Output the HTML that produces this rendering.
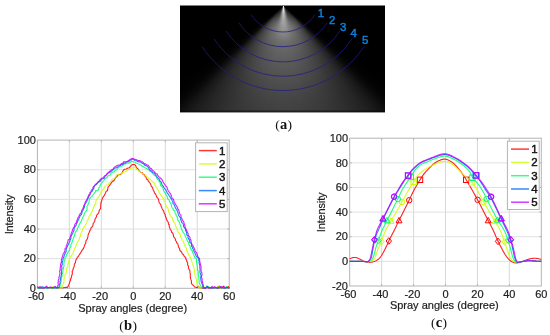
<!DOCTYPE html>
<html lang="en">
<head>
<meta charset="utf-8">
<title>Spray intensity figure</title>
<style>
html,body{margin:0;padding:0;background:#fff;}
body{width:550px;height:335px;position:relative;overflow:hidden;font-family:"Liberation Sans",Arial,sans-serif;}
#core{position:absolute;left:180px;top:6px;width:205px;height:106px;mix-blend-mode:screen;background:conic-gradient(from 180deg at 103.5px -2px, rgba(0,0,0,0) 0deg, rgba(0,0,0,0.07) 4deg, rgba(0,0,0,0.28) 8deg, rgba(0,0,0,0.55) 12deg, rgba(0,0,0,0.78) 16deg, rgba(0,0,0,0.92) 20deg, rgba(0,0,0,1) 25deg, rgba(0,0,0,1) 335deg, rgba(0,0,0,0.92) 340deg, rgba(0,0,0,0.78) 344deg, rgba(0,0,0,0.55) 348deg, rgba(0,0,0,0.28) 352deg, rgba(0,0,0,0.07) 356deg, rgba(0,0,0,0) 360deg),radial-gradient(circle at 103.5px -1px, #f0f0f0 0px, #d4d4d4 5px, #a0a0a0 10px, #6c6c6c 16px, #3c3c3c 22px, #141414 30px, #000 38px),#000;}
#spray{position:absolute;left:180px;top:6px;width:205px;height:106px;box-shadow:0 -1px 0 0 rgba(0,0,0,.5),0 1px 0 0 rgba(0,0,0,.4);background:linear-gradient(to bottom, rgba(0,0,0,0) 0, rgba(0,0,0,0) 103.5px, rgba(0,0,0,.6) 106px),conic-gradient(from 180deg at 103.5px 0px, rgba(0,0,0,0) 0deg, rgba(0,0,0,0.02) 10deg, rgba(0,0,0,0.09) 20deg, rgba(0,0,0,0.15) 25deg, rgba(0,0,0,0.23) 30deg, rgba(0,0,0,0.34) 35deg, rgba(0,0,0,0.42) 38deg, rgba(0,0,0,0.5) 40deg, rgba(0,0,0,0.59) 42deg, rgba(0,0,0,0.71) 44deg, rgba(0,0,0,0.84) 46deg, rgba(0,0,0,0.93) 48deg, rgba(0,0,0,0.98) 51deg, rgba(0,0,0,1) 54deg, rgba(0,0,0,1) 306deg, rgba(0,0,0,0.98) 309deg, rgba(0,0,0,0.93) 312deg, rgba(0,0,0,0.84) 314deg, rgba(0,0,0,0.71) 316deg, rgba(0,0,0,0.59) 318deg, rgba(0,0,0,0.5) 320deg, rgba(0,0,0,0.42) 322deg, rgba(0,0,0,0.34) 325deg, rgba(0,0,0,0.23) 330deg, rgba(0,0,0,0.15) 335deg, rgba(0,0,0,0.09) 340deg, rgba(0,0,0,0.02) 350deg, rgba(0,0,0,0) 360deg),radial-gradient(circle at 103.5px 0px, #202020 0px, #333 6px, #525252 12px, #727272 18px, #7c7c7c 23px, #767676 30px, #686868 41px, #5c5c5c 55px, #525252 71px, #4a4a4a 84px, #454545 94px, #404040 107px, #383838 140px),#000;}
svg{position:absolute;left:0;top:0;}
.tk{font-family:"Liberation Sans",Arial,sans-serif;font-size:11px;fill:#1c1c1c;stroke:#1c1c1c;stroke-width:.2px;}
.lg{font-family:"Liberation Sans",Arial,sans-serif;font-size:11.5px;fill:#141414;stroke:#141414;stroke-width:.45px;}
.cap{font-family:"Liberation Serif","Times New Roman",serif;font-size:13.5px;letter-spacing:.3px;fill:#111;}
.cap tspan{font-size:14.5px;}
.num{font-family:"Liberation Sans",Arial,sans-serif;font-size:11.5px;fill:#0c80de;stroke:#0c80de;stroke-width:.45px;}
</style>
</head>
<body>
<div id="spray"></div>
<div id="core"></div>
<svg width="550" height="335" viewBox="0 0 550 335">
<g id="chart-b">
<line x1="69.37" y1="140.1" x2="69.37" y2="288.3" stroke="#d4d4d4" stroke-width="0.9"/>
<line x1="101.33" y1="140.1" x2="101.33" y2="288.3" stroke="#d4d4d4" stroke-width="0.9"/>
<line x1="133.3" y1="140.1" x2="133.3" y2="288.3" stroke="#d4d4d4" stroke-width="0.9"/>
<line x1="165.27" y1="140.1" x2="165.27" y2="288.3" stroke="#d4d4d4" stroke-width="0.9"/>
<line x1="197.23" y1="140.1" x2="197.23" y2="288.3" stroke="#d4d4d4" stroke-width="0.9"/>
<line x1="37.4" y1="169.74" x2="229.2" y2="169.74" stroke="#dcdcdc" stroke-width="0.9"/>
<line x1="37.4" y1="199.38" x2="229.2" y2="199.38" stroke="#dcdcdc" stroke-width="0.9"/>
<line x1="37.4" y1="229.02" x2="229.2" y2="229.02" stroke="#dcdcdc" stroke-width="0.9"/>
<line x1="37.4" y1="258.66" x2="229.2" y2="258.66" stroke="#dcdcdc" stroke-width="0.9"/>
<rect x="37.4" y="140.1" width="191.8" height="148.2" fill="none" stroke="#b4b4b4" stroke-width="1"/>
<line x1="69.37" y1="288.3" x2="69.37" y2="286.3" stroke="#b4b4b4"/>
<line x1="69.37" y1="140.1" x2="69.37" y2="142.1" stroke="#b4b4b4"/>
<line x1="101.33" y1="288.3" x2="101.33" y2="286.3" stroke="#b4b4b4"/>
<line x1="101.33" y1="140.1" x2="101.33" y2="142.1" stroke="#b4b4b4"/>
<line x1="133.3" y1="288.3" x2="133.3" y2="286.3" stroke="#b4b4b4"/>
<line x1="133.3" y1="140.1" x2="133.3" y2="142.1" stroke="#b4b4b4"/>
<line x1="165.27" y1="288.3" x2="165.27" y2="286.3" stroke="#b4b4b4"/>
<line x1="165.27" y1="140.1" x2="165.27" y2="142.1" stroke="#b4b4b4"/>
<line x1="197.23" y1="288.3" x2="197.23" y2="286.3" stroke="#b4b4b4"/>
<line x1="197.23" y1="140.1" x2="197.23" y2="142.1" stroke="#b4b4b4"/>
<line x1="37.4" y1="169.74" x2="39.4" y2="169.74" stroke="#b4b4b4"/>
<line x1="229.2" y1="169.74" x2="227.2" y2="169.74" stroke="#b4b4b4"/>
<line x1="37.4" y1="199.38" x2="39.4" y2="199.38" stroke="#b4b4b4"/>
<line x1="229.2" y1="199.38" x2="227.2" y2="199.38" stroke="#b4b4b4"/>
<line x1="37.4" y1="229.02" x2="39.4" y2="229.02" stroke="#b4b4b4"/>
<line x1="229.2" y1="229.02" x2="227.2" y2="229.02" stroke="#b4b4b4"/>
<line x1="37.4" y1="258.66" x2="39.4" y2="258.66" stroke="#b4b4b4"/>
<line x1="229.2" y1="258.66" x2="227.2" y2="258.66" stroke="#b4b4b4"/>
<polyline points="37.4,288.14 38.7,287.85 40,287.75 41.3,288.02 42.6,287.71 43.9,288.04 45.2,287.76 46.5,287.45 47.8,287.46 49.1,287.63 50.4,287.48 51.7,288.18 53,287.65 54.3,287.66 55.6,287.54 56.9,287.64 58.2,288.28 59.5,287.62 60.8,287.68 62.1,287.4 63.4,287.83 64.7,287.58 66,287.4 67.24,287.42 68.19,286.13 68.73,285.25 68.95,284.21 69.58,282.93 69.91,281.17 70.53,280.61 70.56,278.57 71.31,277.99 71.57,276.01 72.23,274.25 72.42,273.14 72.08,271.58 72.69,270.84 73.05,269.07 73.93,267.33 74.31,265.47 74.34,264.12 75.36,262.85 75.5,261.52 76.09,259.69 76.86,258.62 77.23,257.28 78.34,256.41 79.38,254.57 80.46,253.18 80.81,252.68 81.43,251.19 82.19,250.19 83.38,248.69 84.03,247.02 84.42,245.94 84.86,244.41 85.64,243.56 85.86,241.86 86.03,240.51 87.11,239.45 87.81,237.28 87.96,236.32 88.18,234.7 88.86,232.94 89.31,232.27 89.92,230.31 90.7,229.61 91.05,227.77 92.1,226.88 92.97,225.49 93.11,223.62 93.82,222.77 94.98,220.59 94.91,219.31 95.59,218.21 96.54,216.6 96.64,215.4 97.6,214.19 98.75,212.95 98.99,211.5 99.76,209.51 100.36,208.79 100.74,207.3 100.7,205.35 100.84,204.09 101.21,201.95 101.74,200.54 102.26,198.91 102.62,197.71 103.39,196.63 103.99,195.88 105.19,193.78 105.54,192.69 106.31,191.13 107.42,190.78 107.75,188.91 108.08,187.18 108.99,186.05 110.1,184.63 110.28,184.38 111.65,182.39 112.57,181.15 113.47,181.08 114.68,179.66 115.05,178.19 115.88,177.52 117.12,176.42 117.85,174.7 119.78,174.73 121.32,173.74 122.29,172.6 122.75,171.29 123.87,169.68 124.78,169.24 126.18,168.97 128.01,167.98 129.19,167.86 130.41,166.45 131.15,165.43 132.53,164.54 134.31,164.44 135.41,165.18 136.14,166.73 136.43,167.71 137.97,168.98 138.63,169.78 139.31,171.16 140.65,172.21 142.42,172.81 143.11,174.45 144.6,174.64 144.86,175.82 146.36,177.74 146.48,178.96 148.03,179.97 148.27,181.05 148.87,181.67 150.52,183.76 151.02,185.48 151.59,186.7 152.6,187.26 152.74,188.64 153.38,190.26 154.06,191.37 154.6,193.2 155.45,193.99 156.31,195.77 156.82,197.08 157.55,197.94 158.22,198.67 158.75,200.2 158.95,202.23 159.71,203.22 160.8,204.66 161.04,205.97 161.85,207.61 162.05,208.72 162.77,209.75 163.79,211.38 164.14,213.03 165,214.05 165.27,215.49 165.73,217.07 166.21,218.27 166.78,220.09 167.52,221.39 168.28,222.08 168.48,224.2 169.28,224.69 169.17,226.39 169.67,227.54 170.22,229.39 171.5,231.02 171.57,232.21 172.66,232.97 173.5,235.26 173.55,236.63 174.35,237.51 175.52,239.27 175.42,240.22 176.37,241.5 176.73,242.87 177.84,243.92 178.33,245.77 178.49,247.04 179.67,248.63 179.81,250.53 181.32,251.76 181.56,252.23 182.36,254.04 183.42,254.56 184.42,256.67 185.63,257.19 185.88,259.16 186.71,260.38 186.73,261.14 187.72,263.01 187.62,265.03 188.57,266.34 188.53,267.87 188.96,269.34 189.76,270.22 190.05,272.4 189.99,273.06 190.42,274.71 190.25,276.16 190.4,277.74 190.83,279.39 191.43,280.9 191.4,282.31 191.46,283.67 192.48,284.62 194.01,286.16 194.62,287.02 196.39,287.57 197.2,287.48 198.5,286.33 199.8,287.61 201.1,287.88 202.4,287.99 203.7,288.19 205,287.69 206.3,287.53 207.6,286.34 208.9,288.2 210.2,288.06 211.5,287.53 212.8,287.85 214.1,288.12 215.4,287.93 216.7,288.01 218,286.67 219.3,286.09 220.6,287.9 221.9,287.96 223.2,286.24 224.5,288.07 225.8,287.88 227.1,287.46 228.4,286.56 229.2,287.9" fill="none" stroke="#ff0000" stroke-width="1.1" stroke-linejoin="round" stroke-opacity=".88"/>
<polyline points="37.4,288.18 38.7,287.63 40,286.85 41.3,287.96 42.6,287.73 43.9,287.58 45.2,287.94 46.5,286.46 47.8,288.01 49.1,287.68 50.4,288.12 51.7,286.26 53,287.9 54.3,287.48 55.6,288.03 56.9,287.65 58.2,288.26 59.5,287.91 60.8,287.77 62.41,287.48 62.77,286.85 62.89,284.72 63.23,283.58 63.84,282.03 64.08,279.96 63.98,278.68 64.87,277.26 65.06,275.46 64.99,274.28 65.92,273.28 66.31,271.37 66.55,270.09 66.89,268.25 67.65,266.87 68.11,266.21 67.63,264.22 68.74,263.31 68.79,261.08 68.96,260.36 69.34,258.49 70.08,257.03 71.61,255.2 72.29,254.21 73.15,253.02 73.36,251.84 74.39,249.48 74.53,248.6 75.5,247.01 75.8,245.67 76.53,244.83 76.82,243.34 78.15,241.26 78.8,240.53 79.35,238.68 79.44,237.4 80.58,236.23 80.58,234.67 81.08,232.86 81.49,232.34 82.23,231.07 82.77,228.94 83.7,227.49 84.27,226.96 85.42,225.43 85.89,224.17 86.86,222.4 87.35,220.48 88.06,219.55 88.77,218.39 89.04,216.36 90.31,215.08 90.6,213.94 91.13,213.01 92.44,211.11 92.84,209.78 93.29,208.56 93.48,206.98 94.05,206.47 94.85,204.39 95.75,203.92 95.88,201.65 96.19,200.27 96.86,198.95 97.59,197.8 98.71,197.16 99.69,195.3 100.21,194.09 101,192.56 101.54,191.16 103.18,189.66 103.58,188.88 104.73,187.09 105.09,186.12 106.11,185.34 108.01,184.78 109.34,182.87 109.58,182.43 111.36,180.97 112.08,179.25 113.1,179.19 114.69,178.03 116.03,176.28 116.45,175.1 118.02,174.6 119.9,174.04 121.13,173.49 122.46,172.66 123.59,172.31 125.26,171.71 127.13,170.28 128.17,169.48 130.12,169.22 131.05,167.93 132.82,167.89 134.1,166.9 135.56,167.73 136.55,169.29 138.41,170.56 139.55,171.27 140.16,171.92 142.11,173.28 142.83,173.37 144.3,174.94 145.53,175.33 146.95,177.15 147.75,177.25 149.05,178.75 150.56,179.59 151.87,181.26 152.5,181.68 153.82,182.79 154.59,183.7 154.95,185.29 155.78,186.79 156.72,187.24 157.24,188.78 158.4,190.66 158.7,191.34 159.52,193.27 160.22,193.54 160.91,195.21 162.43,197.04 163.05,198.46 163.99,199.01 163.87,201.03 164.92,201.39 165.4,203.12 165.69,204.41 166.05,205.4 166.7,207.14 167.86,208.24 168.42,209.68 168.53,211.73 169.6,212.67 169.57,214.09 170.51,215.95 171.01,216.71 172.3,217.71 172.52,219.94 173.5,220.47 173.5,221.86 174.95,223.45 175.45,225.52 175.74,226.21 176.95,227.96 176.99,229.44 177.67,230.34 178.03,232.25 179.49,233.51 180.16,234.22 180.16,236.11 181.45,238.02 181.58,238.63 182.26,240.29 183.35,241.33 183.87,243.33 184.53,244.75 184.98,245.65 185.36,247.07 186.41,248.15 186.53,250.28 187.27,250.97 187.78,252.96 188.74,254.88 189.95,256.34 190.09,256.79 190.64,258.7 191.62,260.14 191.62,261.61 192.39,263.39 192.94,265.08 193.29,265.78 193.88,267.47 194.06,269.06 194.47,270.24 194.29,271.66 194.46,273.74 195.1,274.49 195.19,276.6 195.55,277.13 196.08,278.97 196.64,279.81 196.58,282.05 197.31,283.61 196.99,284.37 197.79,285.33 199.29,286.82 199.99,287.66 200.8,288.3 202.1,287.58 203.4,285.88 204.7,287.78 206,287.77 207.3,287.81 208.6,287.41 209.9,287.98 211.2,287.48 212.5,287.73 213.8,287.53 215.1,287.87 216.4,287.5 217.7,288.12 219,285.83 220.3,288.28 221.6,287.45 222.9,287.75 224.2,287.96 225.5,287.54 226.8,287.6 228.1,288.16 229.2,287.9" fill="none" stroke="#ccff00" stroke-width="1.1" stroke-linejoin="round" stroke-opacity=".88"/>
<polyline points="37.4,286.75 38.7,288.1 40,287.97 41.3,287.78 42.6,287.96 43.9,288.01 45.2,287.56 46.5,288.1 47.8,287.84 49.1,287.43 50.4,287.54 51.7,288.25 53,287.49 54.3,287.89 55.6,287.86 56.9,288.15 58.2,287.77 59.51,287.49 59.98,286.34 60.25,284.44 60.4,283.62 61.26,281.4 61.23,280.71 61.03,279.32 61.38,277.58 62.05,276.14 62.09,274.45 62.61,272.98 62.94,271.54 63.01,269.61 63.44,268.66 63.36,267.49 64.12,265.69 63.84,264.24 64.05,262.39 64.6,260.88 64.88,259.88 64.79,258.55 65.46,257.26 66.72,255.61 66.7,254.2 67.62,253.3 68.04,251.79 69.45,250.26 69.82,248.28 70.5,247.22 71.01,246.3 70.83,244.77 72.05,242.59 72.07,241.96 72.43,240.73 73.06,239.25 73.48,237.52 74.71,235.81 74.65,234.75 75.24,232.85 75.65,231.6 76.86,230.78 77.36,228.84 77.93,227.41 78.37,226.61 78.89,225.5 79.74,223.8 80.7,221.91 81.47,221.11 81.6,219.93 82.16,218.77 83.11,216.7 83.95,215.42 84.09,214.38 84.65,213.09 85.51,211.52 86.84,210.09 87.03,208.28 86.92,206.46 87.54,205.58 88.28,203.96 89.18,202.02 89.07,201.08 89.37,198.85 90.56,197.77 91.44,196.7 92.53,195.9 93.08,194.74 94.21,193 95.51,191.92 95.68,190.56 97.32,190.71 98.65,189.49 98.84,187.54 99.83,186.62 100.22,185.19 100.95,183.98 102.21,182.21 103.36,180.97 104.03,180.35 104.76,178.96 106.25,177.89 107.05,177.9 107.68,176.07 109.24,175.46 110.41,174.86 111.14,173.36 112.39,172.13 114.06,172 115.05,170.2 116.31,170.07 117.11,169.27 118.24,167.9 119.07,167.11 120.16,166.42 121.94,166.01 123.17,165.23 123.79,164.26 125.61,163.98 127.35,162.88 129.13,163.11 130.08,162.55 131.23,161.4 132.76,161.47 134.9,162.17 135.84,163.02 137.05,162.99 138.77,164.1 139.77,164.82 141.23,165.29 142.31,166.22 143.7,166.81 144.95,167.83 145.95,168.31 147.61,169.04 149.17,170.09 149.67,171.03 151.79,172.27 152.38,172.9 153.59,174.61 154.95,175.79 155.87,176.27 156.57,177.76 157.6,179.44 158.5,179.78 159.3,181.88 160.2,182.17 160.25,183.56 160.81,185.75 162.23,186.9 162.96,188.28 163.19,189.08 163.74,191.18 164.55,192.08 165.46,193.14 166.03,194.81 167.16,196.29 167.52,198.33 168.4,199.59 169.18,200.03 169.67,201.83 170.67,203.08 171.28,204.64 171.52,206.35 172.08,207.65 172.83,208.1 173.53,210.29 174.82,210.83 174.96,212.73 175.82,213.77 176.14,215.32 177.03,216.59 177.71,217.99 177.64,219.82 178.48,220.54 179.19,221.88 179.92,223.93 180.5,225.23 180.7,226.35 181.32,228.26 181.63,229.63 182.21,230.26 183.07,232.41 183.92,233.23 184.91,234.45 185.16,236.17 186.07,237.8 186.61,238.74 186.96,239.91 188.07,241.86 188.62,242.7 188.98,244.75 189.75,245.43 190.29,247.65 190.72,248.27 191.42,250.22 192.61,251.07 192.69,252.62 193.54,254.37 194.09,255.61 194.82,257.77 196.01,258.26 196.52,259.81 196.3,262.33 196.97,263.61 196.94,264.57 197.42,266.02 197.34,267.88 197.36,269.45 198.22,271.33 198.14,272.83 198.29,273.85 198.59,275.7 198.9,277.81 198.8,279 199.26,280.39 198.98,282.28 199.74,283.9 200.45,285.45 201.29,286.69 201.96,287.79 203.2,287.59 204.5,287.75 205.8,287.51 207.1,286.65 208.4,286.54 209.7,287.78 211,287.72 212.3,287.6 213.6,288.25 214.9,287.6 216.2,287.75 217.5,287.52 218.8,288.13 220.1,287.82 221.4,287.6 222.7,287.72 224,288.14 225.3,287.82 226.6,286.26 227.9,287.72 229.2,287.9" fill="none" stroke="#00ff66" stroke-width="1.1" stroke-linejoin="round" stroke-opacity=".88"/>
<polyline points="37.4,287.66 38.7,287.58 40,288.29 41.3,287.14 42.6,286.68 43.9,287.66 45.2,287.41 46.5,287.71 47.8,287.4 49.1,287.87 50.4,287.79 51.7,287.6 53,287.52 54.3,288.09 55.6,286.69 56.9,287.95 58.2,287.65 58.99,287.66 59.21,286.25 59.38,284.32 60.1,283.16 59.9,281.72 60.35,280.39 60.72,279.18 60.63,278 61.23,275.57 61.37,275.03 61.48,272.72 61.68,271.79 61.11,269.63 62.11,268.87 61.63,266.79 61.69,265.46 62.42,264.12 62.02,263.26 62.75,260.98 62.99,259.99 63.05,258.59 63.75,257.32 64.3,255.27 64.77,254.23 65.42,252.73 66.14,251.46 66.19,249.71 66.58,248.61 67.02,247.19 67.6,245.83 68.43,244.5 69.26,242.52 69.75,241.64 70,240.48 70.76,238.77 70.89,238.03 71.08,236.28 72.1,234.23 72.58,233.56 73.38,231.79 73.93,230.6 73.99,229.64 74.22,228.07 75.4,226.28 76.25,224.94 76.55,223.74 77.46,222.02 77.8,220.89 78.55,219.96 78.96,218.59 79.7,216.86 80.22,215.49 81.5,214.28 81.98,212.56 82.19,211.15 83.08,210.15 83.78,208.17 84.25,207.77 84.62,205.53 84.92,204.16 85.35,203.84 86.25,202.22 86.94,201.18 87.3,199.53 88.02,198.36 88.7,197.09 89.07,195.82 90,194.67 90.39,192.78 91.04,192.17 92.54,190.79 92.75,189.72 93.84,188.18 94.07,186.64 94.93,185.4 96.02,184.76 97.55,183.11 98.3,182.09 98.98,181.94 100.47,181.06 101.47,179.11 102.54,178.78 104.15,178.25 104.86,176.66 105.64,175.96 106.86,174.46 107.8,173.34 109.53,172.5 110.9,171.51 111.93,170.59 112.27,170.39 113.57,169.56 114.62,167.96 116.25,167.83 117.65,167.15 118.29,166.34 120.19,165.46 121.72,164.53 123.08,164.34 123.56,162.87 125.39,163.2 126.12,162.09 127.96,161.38 129.32,161.18 129.77,160.39 131.4,159.8 132.66,158.81 134.02,159.65 135.13,160.54 136.46,160.74 138.32,161.82 139.86,161.87 140.71,162.08 142.63,163.56 143.79,163.92 144.9,165.39 146.4,165.74 147.23,166.32 148.55,167.46 149.17,168.91 150.16,170.34 150.67,170.25 151.72,171.51 153.08,172.75 154.47,173.1 155.54,175.14 156.69,176.08 157.28,177.59 158.88,178.6 159.73,179.55 159.75,181.1 161.15,182.03 161.87,184.15 162.16,185.12 163.38,186.25 163.77,187.31 165.08,189.19 165.64,189.71 166.77,191.75 167.07,192.83 168.48,194.46 168.97,195.3 169.84,196.28 170.3,197.56 171.58,199.05 172.13,200.44 172.77,201.51 173.02,203.8 173.99,204.17 174.89,206.27 175.14,207.41 175.99,208.67 176.37,209.49 177.83,211.77 177.96,212.82 178.34,214.42 179.08,215.98 179.97,217.21 180.73,217.96 180.48,219.27 181.2,220.51 181.67,222.41 182.99,223.67 183.65,225.54 183.44,226.57 184.32,227.41 185.41,228.93 185.62,230.74 186.53,232.16 186.58,233.3 186.93,235.26 188.24,235.83 187.94,237.25 188.79,239.35 189.84,240.66 189.63,242 190.79,243.23 191.6,243.96 191.4,246.12 192.68,247.42 192.66,248.71 193.63,249.57 193.93,250.98 194.43,252.47 195.16,253.44 195.82,255.17 196.39,256.45 197.24,256.95 198.58,258.39 198.89,260.65 199.15,261.4 199.05,262.91 199.79,265.28 199.82,266.4 199.86,268.36 200.12,269.7 199.96,270.81 200.02,272.92 200.61,273.85 201.03,275.54 200.76,276.98 200.77,279.29 200.97,280.11 201.25,281.84 201.76,283.18 202.43,284.58 202.96,286.72 202.94,287.98 204.4,287.95 205.7,288.13 207,286.05 208.3,287.77 209.6,287.45 210.9,287.7 212.2,288.18 213.5,287.41 214.8,287.83 216.1,287.64 217.4,288.15 218.7,287.55 220,286.62 221.3,287.8 222.6,287.51 223.9,288.13 225.2,287.69 226.5,287.74 227.8,287.46 229.1,288.26 229.2,287.9" fill="none" stroke="#0066ff" stroke-width="1.1" stroke-linejoin="round" stroke-opacity=".88"/>
<polyline points="37.4,286.47 38.7,287.58 40,286.63 41.3,287.97 42.6,288.16 43.9,288.04 45.2,287.79 46.5,286.08 47.8,288.1 49.1,287.44 50.4,286.9 51.7,287.5 53,287.59 54.3,286.58 55.6,287.75 57.41,287.83 57.7,285.81 58.35,284.56 57.91,282.96 58.24,282.28 58.31,280.02 59.18,278.66 58.75,277.64 59.44,276.08 59.74,274.15 60.08,273.35 59.52,271.23 60.11,270.17 60.1,268.28 60.4,266.83 60.75,266.15 60.54,264.37 61.26,262.45 61.52,261.82 61.31,259.78 61.91,258.43 62.04,257.49 62.92,255.42 62.97,254.02 63.68,253.33 64.54,251.85 65.08,250.38 64.93,248.63 66.28,247.7 66.17,245.75 67.05,244.3 67.49,242.59 67.94,241.69 68.1,239.9 69.49,239.21 69.99,237.67 70.41,236.56 71.01,234.23 71.33,233.1 71.89,231.72 72.3,231.05 72.91,228.93 73.49,227.76 74.55,226.22 74.64,225.25 75.14,223.82 76.57,222.36 76.62,220.93 77.53,219.21 77.83,217.82 78.66,216.75 79.32,215.2 79.81,214.17 81.16,212.86 81.59,211.54 81.93,210.23 82.74,208.73 83.45,207.32 83.75,205.74 84.25,204.71 84.97,203.47 85.21,201.89 86.55,200.44 86.85,199.39 87.32,198.63 88.03,197.08 88.62,195 89.97,194.1 89.95,192.73 91,191.8 91.41,189.93 92.89,189.19 92.87,187.44 93.76,186.5 94.7,185.38 95.97,183.98 96.97,183.19 98.07,181.85 99.18,181.07 100.37,179.39 101.47,178.27 102.52,177.93 103.42,177.37 104.62,175.79 105.96,175.31 106.94,173.79 107.94,172.89 109.32,171.73 110.16,171.04 111.3,169.8 112.71,169.53 113.5,168.24 114.27,167.23 115.28,166.68 117.07,165.45 118.78,165.01 120.11,164.87 121.61,163.47 122.53,163.55 123.56,161.9 125.31,161.85 126.88,161.6 127.78,161.3 129.02,160.22 130.23,159.35 131.01,158.84 132.07,158.49 133.76,158.73 134.64,159.26 136.44,159.87 138.13,160.62 140.02,160.59 140.95,161.54 142.85,162.03 143.83,163.35 144.9,163.6 147.03,164.96 148.01,164.97 149.41,166.76 150.39,168.24 151.5,168.76 151.89,169.77 153.11,170.71 153.72,171.05 155.12,172.51 155.87,173.94 157.12,173.9 157.92,175.72 158.83,176.61 159.55,177.18 161.27,178.81 162.07,179.71 162.88,181.42 163.63,182.84 164.83,184.55 165.57,185.17 165.86,186.16 167.13,187.37 167.24,188.7 168.32,190.69 169.1,191.94 169.31,192.33 170.64,193.94 171.29,195.24 171.5,196.41 172.14,198.38 173.27,199.03 173.82,200.42 174.12,202.33 175.26,203.76 175.8,204.73 176.29,205.45 177.56,207.69 177.67,209.09 178.78,209.78 179.14,211.88 179.6,213.24 179.92,213.99 180.9,215.18 181.08,217.27 181.79,218.55 182.12,219.24 182.77,220.63 183.87,222.11 184.06,223.29 184.58,224.96 185.01,225.98 185.31,228.19 186.07,228.92 186.48,230.35 187.08,231.46 188.03,233.19 188.13,234.97 188.63,235.88 189.86,237.11 190.07,239.28 190.95,239.92 191.11,241.92 191.69,243.57 192.1,244.95 192.92,245.54 193.44,246.82 194.23,248.35 194.96,250.1 195.17,250.96 196.07,252.17 196.99,253.31 197.35,255.02 197.82,256.51 198.61,257.63 199.46,258.49 199.62,259.62 199.75,261.85 200.2,263.02 200.33,264.29 200.88,265.6 200.93,266.62 201.06,268.3 201.01,270.34 201.27,271.49 201.95,273.4 202.04,275 201.49,275.85 201.51,277.8 202.2,278.94 202.09,280.77 202.46,281.82 202.71,283.44 203.18,284.72 203.39,286.99 204.61,288.23 205.6,288.15 206.9,287.48 208.2,287.78 209.5,288.02 210.8,288.15 212.1,286.31 213.4,287.79 214.7,286.67 216,287.44 217.3,288.13 218.6,287.89 219.9,287.97 221.2,286.47 222.5,287.77 223.8,286.17 225.1,288 226.4,287.62 227.7,287.8 229,287.72 229.2,287.9" fill="none" stroke="#cc00ff" stroke-width="1.1" stroke-linejoin="round" stroke-opacity=".88"/>
<rect x="195.6" y="142.8" width="31.6" height="68.8" fill="#fff" stroke="#b4b4b4" stroke-width="1"/>
<line x1="198.8" y1="150.6" x2="216.8" y2="150.6" stroke="#ff0000" stroke-opacity=".78" stroke-width="1.5"/>
<text x="218.9" y="154.6" class="lg">1</text>
<line x1="198.8" y1="163.9" x2="216.8" y2="163.9" stroke="#ccff00" stroke-opacity=".78" stroke-width="1.5"/>
<text x="218.9" y="167.9" class="lg">2</text>
<line x1="198.8" y1="177.2" x2="216.8" y2="177.2" stroke="#00ff66" stroke-opacity=".78" stroke-width="1.5"/>
<text x="218.9" y="181.2" class="lg">3</text>
<line x1="198.8" y1="190.6" x2="216.8" y2="190.6" stroke="#0066ff" stroke-opacity=".78" stroke-width="1.5"/>
<text x="218.9" y="194.6" class="lg">4</text>
<line x1="198.8" y1="203.8" x2="216.8" y2="203.8" stroke="#cc00ff" stroke-opacity=".78" stroke-width="1.5"/>
<text x="218.9" y="207.8" class="lg">5</text>
<text x="36.2" y="300.2" class="tk" text-anchor="middle">-60</text>
<text x="68.17" y="300.2" class="tk" text-anchor="middle">-40</text>
<text x="100.13" y="300.2" class="tk" text-anchor="middle">-20</text>
<text x="133.3" y="300.2" class="tk" text-anchor="middle">0</text>
<text x="165.27" y="300.2" class="tk" text-anchor="middle">20</text>
<text x="197.23" y="300.2" class="tk" text-anchor="middle">40</text>
<text x="229.2" y="300.2" class="tk" text-anchor="middle">60</text>
<text x="35.9" y="292" class="tk" text-anchor="end">0</text>
<text x="35.9" y="262.36" class="tk" text-anchor="end">20</text>
<text x="35.9" y="232.72" class="tk" text-anchor="end">40</text>
<text x="35.9" y="203.08" class="tk" text-anchor="end">60</text>
<text x="35.9" y="173.44" class="tk" text-anchor="end">80</text>
<text x="35.9" y="143.8" class="tk" text-anchor="end">100</text>
<text x="132.7" y="311.5" class="tk" text-anchor="middle">Spray angles (degree)</text>
<text transform="translate(12.9 214.5) rotate(-90)" class="tk" letter-spacing="-.15" text-anchor="middle">Intensity</text>
<text x="128.2" y="330" class="cap" text-anchor="middle">(<tspan font-weight="bold">b</tspan>)</text>
</g>
<g id="chart-c">
<line x1="381.63" y1="138.2" x2="381.63" y2="286" stroke="#d4d4d4" stroke-width="0.9"/>
<line x1="413.57" y1="138.2" x2="413.57" y2="286" stroke="#d4d4d4" stroke-width="0.9"/>
<line x1="445.5" y1="138.2" x2="445.5" y2="286" stroke="#d4d4d4" stroke-width="0.9"/>
<line x1="477.43" y1="138.2" x2="477.43" y2="286" stroke="#d4d4d4" stroke-width="0.9"/>
<line x1="509.37" y1="138.2" x2="509.37" y2="286" stroke="#d4d4d4" stroke-width="0.9"/>
<line x1="349.7" y1="162.83" x2="541.3" y2="162.83" stroke="#dcdcdc" stroke-width="0.9"/>
<line x1="349.7" y1="187.47" x2="541.3" y2="187.47" stroke="#dcdcdc" stroke-width="0.9"/>
<line x1="349.7" y1="212.1" x2="541.3" y2="212.1" stroke="#dcdcdc" stroke-width="0.9"/>
<line x1="349.7" y1="236.73" x2="541.3" y2="236.73" stroke="#dcdcdc" stroke-width="0.9"/>
<line x1="349.7" y1="261.37" x2="541.3" y2="261.37" stroke="#dcdcdc" stroke-width="0.9"/>
<rect x="349.7" y="138.2" width="191.6" height="147.8" fill="none" stroke="#b4b4b4" stroke-width="1"/>
<line x1="381.63" y1="286" x2="381.63" y2="284" stroke="#b4b4b4"/>
<line x1="381.63" y1="138.2" x2="381.63" y2="140.2" stroke="#b4b4b4"/>
<line x1="413.57" y1="286" x2="413.57" y2="284" stroke="#b4b4b4"/>
<line x1="413.57" y1="138.2" x2="413.57" y2="140.2" stroke="#b4b4b4"/>
<line x1="445.5" y1="286" x2="445.5" y2="284" stroke="#b4b4b4"/>
<line x1="445.5" y1="138.2" x2="445.5" y2="140.2" stroke="#b4b4b4"/>
<line x1="477.43" y1="286" x2="477.43" y2="284" stroke="#b4b4b4"/>
<line x1="477.43" y1="138.2" x2="477.43" y2="140.2" stroke="#b4b4b4"/>
<line x1="509.37" y1="286" x2="509.37" y2="284" stroke="#b4b4b4"/>
<line x1="509.37" y1="138.2" x2="509.37" y2="140.2" stroke="#b4b4b4"/>
<line x1="349.7" y1="162.83" x2="351.7" y2="162.83" stroke="#b4b4b4"/>
<line x1="541.3" y1="162.83" x2="539.3" y2="162.83" stroke="#b4b4b4"/>
<line x1="349.7" y1="187.47" x2="351.7" y2="187.47" stroke="#b4b4b4"/>
<line x1="541.3" y1="187.47" x2="539.3" y2="187.47" stroke="#b4b4b4"/>
<line x1="349.7" y1="212.1" x2="351.7" y2="212.1" stroke="#b4b4b4"/>
<line x1="541.3" y1="212.1" x2="539.3" y2="212.1" stroke="#b4b4b4"/>
<line x1="349.7" y1="236.73" x2="351.7" y2="236.73" stroke="#b4b4b4"/>
<line x1="541.3" y1="236.73" x2="539.3" y2="236.73" stroke="#b4b4b4"/>
<line x1="349.7" y1="261.37" x2="351.7" y2="261.37" stroke="#b4b4b4"/>
<line x1="541.3" y1="261.37" x2="539.3" y2="261.37" stroke="#b4b4b4"/>
<polyline points="349.7,258.8 349.84,258.74 350.13,258.61 350.56,258.43 351.14,258.18 351.72,257.96 352.31,257.79 352.9,257.65 353.5,257.55 354.11,257.5 354.74,257.5 355.38,257.55 356.03,257.65 356.7,257.81 357.4,258.04 358.12,258.32 358.88,258.68 359.66,259.05 360.47,259.45 361.31,259.88 362.19,260.33 363.06,260.74 363.94,261.11 364.81,261.45 365.69,261.75 366.53,261.99 367.34,262.16 368.12,262.27 368.88,262.32 369.62,262.34 370.38,262.31 371.12,262.25 371.88,262.15 372.62,262 373.38,261.8 374.12,261.55 374.88,261.25 375.62,260.9 376.38,260.5 377.12,260.05 377.88,259.55 378.59,258.98 379.28,258.32 379.94,257.6 380.56,256.8 381.18,255.95 381.77,255.05 382.36,254.1 382.94,253.1 383.59,251.9 384.33,250.5 385.15,248.9 386.05,247.1 386.81,245.54 387.44,244.21 387.92,243.13 388.28,242.27 388.68,241.36 389.13,240.39 389.63,239.35 390.17,238.25 390.8,237.01 391.5,235.64 392.28,234.12 393.12,232.48 394.05,230.65 395.05,228.65 396.12,226.48 397.28,224.12 398.78,221.09 400.62,217.36 402.83,212.95 405.37,207.85 407.58,203.39 409.44,199.56 410.96,196.38 412.14,193.83 413.4,191.28 414.75,188.72 416.19,186.17 417.71,183.62 419.14,181.28 420.48,179.13 421.72,177.18 422.88,175.43 424.04,173.81 425.21,172.34 426.4,171 427.6,169.8 428.72,168.67 429.77,167.62 430.75,166.65 431.65,165.75 432.51,164.94 433.34,164.21 434.12,163.58 434.88,163.03 435.62,162.51 436.38,162.04 437.12,161.6 437.88,161.2 438.62,160.82 439.38,160.47 440.12,160.15 440.88,159.85 441.62,159.6 442.38,159.4 443.12,159.25 443.88,159.15 444.62,159.12 445.38,159.17 446.12,159.3 446.88,159.5 447.69,159.79 448.56,160.16 449.5,160.62 450.5,161.18 451.44,161.75 452.31,162.35 453.12,162.98 453.88,163.62 454.62,164.32 455.38,165.07 456.12,165.88 456.88,166.73 457.81,167.85 458.94,169.25 460.25,170.93 461.75,172.88 463.01,174.59 464.04,176.06 464.83,177.3 465.37,178.3 466.16,179.69 467.19,181.46 468.45,183.62 469.95,186.17 471.41,188.7 472.84,191.2 474.22,193.67 475.58,196.12 477.25,199.26 479.25,203.09 481.58,207.6 484.22,212.8 486.52,217.29 488.47,221.06 490.07,224.12 491.32,226.48 492.56,228.95 493.79,231.55 495,234.27 496.2,237.13 497.48,239.98 498.82,242.82 500.25,245.68 501.75,248.53 503.06,250.95 504.19,252.95 505.12,254.53 505.88,255.68 506.62,256.74 507.38,257.71 508.12,258.6 508.88,259.4 509.62,260.11 510.38,260.74 511.12,261.28 511.88,261.72 512.62,262.1 513.38,262.4 514.12,262.62 514.88,262.77 515.62,262.86 516.38,262.89 517.12,262.85 517.88,262.75 518.62,262.61 519.38,262.44 520.12,262.23 520.88,261.98 521.62,261.71 522.38,261.44 523.12,261.15 523.88,260.85 524.62,260.56 525.38,260.29 526.12,260.02 526.88,259.77 527.62,259.54 528.38,259.31 529.12,259.1 529.88,258.9 530.62,258.73 531.38,258.57 532.12,258.45 532.88,258.35 533.62,258.29 534.38,258.26 535.12,258.27 535.88,258.32 536.71,258.42 537.62,258.57 538.61,258.77 539.69,259.02 540.49,259.21 541.03,259.34 541.3,259.4" fill="none" stroke="#ff0000" stroke-width="1.1" stroke-linejoin="round" stroke-opacity=".88"/>
<rect x="417.3" y="177.1" width="5.4" height="5.4" fill="none" stroke="#ff0000" stroke-width="1"/>
<rect x="463.5" y="177.1" width="5.4" height="5.4" fill="none" stroke="#ff0000" stroke-width="1"/>
<circle cx="409.2" cy="200.2" r="2.7" fill="none" stroke="#ff0000" stroke-width="1"/>
<circle cx="477.6" cy="199.8" r="2.7" fill="none" stroke="#ff0000" stroke-width="1"/>
<polygon points="399,217.4 396,222.8 402,222.8" fill="none" stroke="#ff0000" stroke-width="1"/>
<polygon points="488.2,217.4 485.2,222.8 491.2,222.8" fill="none" stroke="#ff0000" stroke-width="1"/>
<polygon points="388.8,237.7 391.5,241 388.8,244.3 386.1,241" fill="none" stroke="#ff0000" stroke-width="1"/>
<polygon points="498,238.1 500.7,241.4 498,244.7 495.3,241.4" fill="none" stroke="#ff0000" stroke-width="1"/>
<polyline points="349.7,261.37 350.47,261.37 352.01,261.37 354.31,261.37 357.39,261.37 359.91,261.39 361.89,261.42 363.31,261.48 364.19,261.55 364.96,261.62 365.64,261.69 366.21,261.74 366.69,261.79 367.3,261.79 368.05,261.73 368.94,261.62 369.96,261.45 370.85,261.25 371.6,261.02 372.21,260.75 372.69,260.45 373.13,260.11 373.54,259.74 373.92,259.33 374.28,258.88 374.64,258.27 375.01,257.52 375.4,256.62 375.8,255.58 376.22,254.41 376.67,253.14 377.15,251.75 377.65,250.25 378.21,248.72 378.84,247.18 379.52,245.6 380.27,244 380.99,242.37 381.66,240.72 382.3,239.05 382.9,237.35 383.47,235.78 384.01,234.33 384.51,233 384.99,231.8 385.67,230.35 386.57,228.65 387.69,226.7 389.01,224.5 390.69,221.65 392.73,218.15 395.12,214 397.88,209.2 400.34,204.85 402.53,200.95 404.44,197.5 406.06,194.5 407.6,191.74 409.05,189.21 410.41,186.92 411.69,184.88 412.88,182.96 413.99,181.19 415.02,179.55 415.98,178.05 416.91,176.7 417.84,175.5 418.75,174.45 419.65,173.55 420.7,172.61 421.9,171.64 423.25,170.62 424.75,169.57 426.25,168.6 427.75,167.7 429.25,166.88 430.75,166.12 432.25,165.4 433.75,164.7 435.25,164.02 436.75,163.38 438.06,162.84 439.19,162.41 440.12,162.1 440.88,161.9 441.64,161.72 442.41,161.57 443.2,161.45 444,161.35 444.8,161.32 445.6,161.37 446.4,161.5 447.2,161.7 448.02,161.96 448.87,162.29 449.75,162.68 450.65,163.12 451.7,163.8 452.9,164.7 454.25,165.83 455.75,167.17 457.25,168.56 458.75,169.99 460.25,171.45 461.75,172.95 463.39,174.52 465.16,176.17 467.08,177.9 469.12,179.7 470.99,181.53 472.66,183.38 474.15,185.25 475.45,187.15 476.81,189.32 478.24,191.78 479.73,194.5 481.27,197.5 483.15,200.96 485.35,204.89 487.88,209.27 490.72,214.13 493.2,218.3 495.3,221.8 497.03,224.63 498.38,226.77 499.65,229.14 500.85,231.71 501.98,234.5 503.02,237.5 504,240.31 504.9,242.94 505.73,245.38 506.48,247.62 507.19,249.72 507.86,251.68 508.5,253.48 509.1,255.12 509.71,256.56 510.34,257.79 510.97,258.8 511.62,259.6 512.26,260.29 512.89,260.86 513.5,261.32 514.1,261.68 514.7,261.94 515.3,262.12 515.9,262.22 516.5,262.24 517.11,262.24 517.74,262.22 518.38,262.19 519.03,262.14 519.76,262.05 520.59,261.91 521.5,261.73 522.5,261.5 523.5,261.3 524.5,261.13 525.5,260.98 526.5,260.85 527.5,260.77 528.5,260.72 529.5,260.7 530.5,260.73 531.5,260.77 532.5,260.84 533.5,260.92 534.5,261.02 535.58,261.1 536.74,261.18 537.99,261.24 539.31,261.29 540.31,261.33 540.97,261.35 541.3,261.37" fill="none" stroke="#ccff00" stroke-width="1.1" stroke-linejoin="round" stroke-opacity=".88"/>
<rect x="410.9" y="179.1" width="5.4" height="5.4" fill="none" stroke="#ccff00" stroke-width="1"/>
<rect x="469.5" y="179.7" width="5.4" height="5.4" fill="none" stroke="#ccff00" stroke-width="1"/>
<circle cx="402" cy="202" r="2.7" fill="none" stroke="#ccff00" stroke-width="1"/>
<circle cx="483.6" cy="202" r="2.7" fill="none" stroke="#ccff00" stroke-width="1"/>
<polygon points="391,218 388,223.4 394,223.4" fill="none" stroke="#ccff00" stroke-width="1"/>
<polygon points="495,218.2 492,223.6 498,223.6" fill="none" stroke="#ccff00" stroke-width="1"/>
<polygon points="381.4,238.3 384.1,241.6 381.4,244.9 378.7,241.6" fill="none" stroke="#ccff00" stroke-width="1"/>
<polygon points="504.6,238.7 507.3,242 504.6,245.3 501.9,242" fill="none" stroke="#ccff00" stroke-width="1"/>
<polyline points="349.7,261.37 350.47,261.37 352.01,261.37 354.31,261.37 357.39,261.37 359.91,261.39 361.89,261.42 363.31,261.48 364.19,261.55 364.96,261.62 365.64,261.69 366.21,261.74 366.69,261.79 367.21,261.77 367.77,261.69 368.38,261.54 369.03,261.33 369.61,261.1 370.14,260.87 370.6,260.62 371,260.38 371.39,260.07 371.76,259.73 372.12,259.33 372.47,258.88 372.84,258.21 373.21,257.34 373.6,256.25 374,254.95 374.39,253.59 374.76,252.16 375.12,250.67 375.47,249.12 375.89,247.59 376.36,246.06 376.9,244.55 377.5,243.05 378.15,241.33 378.85,239.38 379.6,237.2 380.4,234.8 381.04,232.92 381.51,231.57 381.83,230.75 381.97,230.45 382.39,229.64 383.06,228.31 384,226.48 385.2,224.12 386.78,221.01 388.72,217.14 391.05,212.5 393.75,207.1 396.03,202.49 397.89,198.66 399.34,195.62 400.36,193.38 401.51,191.1 402.79,188.8 404.19,186.48 405.71,184.12 407.03,182.14 408.14,180.51 409.05,179.25 409.75,178.35 410.46,177.34 411.19,176.21 411.93,174.98 412.68,173.62 413.44,172.36 414.21,171.19 415,170.1 415.8,169.1 416.65,168.15 417.55,167.25 418.5,166.4 419.5,165.6 420.62,164.84 421.88,164.11 423.25,163.43 424.75,162.78 426.25,162.14 427.75,161.51 429.25,160.9 430.75,160.3 432.25,159.71 433.75,159.14 435.25,158.58 436.75,158.03 438.06,157.56 439.19,157.19 440.12,156.9 440.88,156.7 441.6,156.52 442.3,156.36 442.97,156.21 443.62,156.09 444.33,156.04 445.08,156.06 445.88,156.16 446.72,156.34 447.61,156.58 448.54,156.89 449.5,157.28 450.5,157.72 451.62,158.25 452.88,158.85 454.25,159.53 455.75,160.28 457.25,161.1 458.75,162 460.25,162.97 461.75,164.03 463.25,165.19 464.75,166.46 466.25,167.85 467.75,169.35 469.02,170.86 470.08,172.39 470.9,173.92 471.5,175.48 472.17,176.85 472.92,178.05 473.75,179.07 474.65,179.93 475.73,181.11 476.99,182.64 478.44,184.5 480.06,186.7 481.54,188.91 482.86,191.14 484.04,193.38 485.06,195.62 486.51,198.62 488.37,202.38 490.65,206.88 493.35,212.12 495.81,216.69 498.04,220.56 500.02,223.75 501.77,226.25 503.32,228.76 504.67,231.29 505.82,233.83 506.77,236.38 507.64,238.84 508.41,241.21 509.1,243.5 509.7,245.7 510.26,247.81 510.79,249.84 511.27,251.77 511.73,253.62 512.19,255.27 512.66,256.72 513.15,257.97 513.65,259.03 514.12,259.91 514.57,260.64 515,261.2 515.4,261.6 515.79,261.9 516.16,262.11 516.53,262.22 516.88,262.24 517.3,262.24 517.8,262.22 518.38,262.19 519.03,262.14 519.76,262.05 520.59,261.91 521.5,261.73 522.5,261.5 523.5,261.3 524.5,261.13 525.5,260.98 526.5,260.85 527.5,260.77 528.5,260.72 529.5,260.7 530.5,260.73 531.5,260.77 532.5,260.84 533.5,260.92 534.5,261.02 535.58,261.1 536.74,261.18 537.99,261.24 539.31,261.29 540.31,261.33 540.97,261.35 541.3,261.37" fill="none" stroke="#00ff66" stroke-width="1.1" stroke-linejoin="round" stroke-opacity=".88"/>
<rect x="408.1" y="174.3" width="5.4" height="5.4" fill="none" stroke="#00ff66" stroke-width="1"/>
<rect x="469.7" y="175.1" width="5.4" height="5.4" fill="none" stroke="#00ff66" stroke-width="1"/>
<circle cx="397.8" cy="199" r="2.7" fill="none" stroke="#00ff66" stroke-width="1"/>
<circle cx="486.6" cy="199" r="2.7" fill="none" stroke="#00ff66" stroke-width="1"/>
<polygon points="387,217.4 384,222.8 390,222.8" fill="none" stroke="#00ff66" stroke-width="1"/>
<polygon points="497.4,216.8 494.4,222.2 500.4,222.2" fill="none" stroke="#00ff66" stroke-width="1"/>
<polygon points="378.4,237.5 381.1,240.8 378.4,244.1 375.7,240.8" fill="none" stroke="#00ff66" stroke-width="1"/>
<polygon points="508.2,236.9 510.9,240.2 508.2,243.5 505.5,240.2" fill="none" stroke="#00ff66" stroke-width="1"/>
<polyline points="349.7,261.37 350.47,261.37 352.01,261.37 354.31,261.37 357.39,261.37 359.91,261.39 361.89,261.42 363.31,261.48 364.19,261.55 364.96,261.62 365.64,261.69 366.21,261.74 366.69,261.79 367.14,261.77 367.58,261.69 368,261.54 368.4,261.33 368.79,261.08 369.16,260.79 369.53,260.48 369.88,260.12 370.21,259.71 370.54,259.24 370.85,258.7 371.15,258.1 371.49,256.95 371.86,255.25 372.27,253 372.73,250.2 373.15,247.71 373.55,245.54 373.92,243.67 374.28,242.12 374.66,240.55 375.09,238.95 375.55,237.32 376.05,235.68 376.54,234.24 377.01,233.01 377.48,232 377.93,231.2 378.55,229.9 379.35,228.1 380.33,225.8 381.47,223 383.02,219.53 384.97,215.38 387.32,210.55 390.07,205.05 392.41,200.5 394.34,196.9 395.85,194.25 396.95,192.55 398.11,190.71 399.34,188.74 400.62,186.62 401.97,184.38 403.25,182.35 404.45,180.55 405.58,178.98 406.62,177.62 407.59,176.35 408.46,175.15 409.25,174.03 409.95,172.97 410.68,171.99 411.43,171.06 412.2,170.2 413,169.4 413.8,168.61 414.6,167.84 415.4,167.07 416.2,166.32 417.02,165.6 417.87,164.9 418.75,164.22 419.65,163.57 420.7,162.93 421.9,162.27 423.25,161.62 424.75,160.98 426.25,160.35 427.75,159.75 429.25,159.18 430.75,158.62 432.25,158.08 433.75,157.53 435.25,156.97 436.75,156.42 438.06,155.96 439.19,155.59 440.12,155.3 440.88,155.1 441.61,154.92 442.34,154.76 443.05,154.61 443.75,154.49 444.48,154.43 445.23,154.44 446,154.53 446.8,154.68 447.65,154.89 448.55,155.18 449.5,155.54 450.5,155.96 451.62,156.47 452.88,157.06 454.25,157.72 455.75,158.47 457.25,159.3 458.75,160.2 460.25,161.17 461.75,162.22 463.25,163.32 464.75,164.48 466.25,165.68 467.75,166.93 469.24,168.28 470.71,169.73 472.17,171.28 473.63,172.93 475.06,174.62 476.49,176.38 477.9,178.18 479.3,180.03 480.61,181.86 481.84,183.69 482.98,185.5 484.02,187.3 485.14,189.09 486.31,190.86 487.55,192.62 488.85,194.38 490.46,197.05 492.39,200.65 494.63,205.17 497.17,210.62 499.44,215.41 501.41,219.54 503.1,223 504.5,225.8 505.8,228.51 507,231.14 508.1,233.67 509.1,236.12 509.98,238.48 510.73,240.73 511.35,242.88 511.85,244.92 512.33,246.99 512.77,249.06 513.2,251.15 513.6,253.25 514,255.09 514.4,256.66 514.8,257.97 515.2,259.03 515.57,259.91 515.92,260.64 516.25,261.2 516.55,261.6 516.8,261.9 517,262.11 517.15,262.22 517.25,262.24 517.49,262.24 517.86,262.22 518.38,262.19 519.03,262.14 519.76,262.05 520.59,261.91 521.5,261.73 522.5,261.5 523.5,261.3 524.5,261.13 525.5,260.98 526.5,260.85 527.5,260.77 528.5,260.72 529.5,260.7 530.5,260.73 531.5,260.77 532.5,260.84 533.5,260.92 534.5,261.02 535.58,261.1 536.74,261.18 537.99,261.24 539.31,261.29 540.31,261.33 540.97,261.35 541.3,261.37" fill="none" stroke="#0066ff" stroke-width="1.1" stroke-linejoin="round" stroke-opacity=".88"/>
<rect x="405.5" y="172.9" width="5.4" height="5.4" fill="none" stroke="#0066ff" stroke-width="1"/>
<rect x="473.1" y="172.7" width="5.4" height="5.4" fill="none" stroke="#0066ff" stroke-width="1"/>
<circle cx="394.2" cy="196.8" r="2.7" fill="none" stroke="#0066ff" stroke-width="1"/>
<circle cx="490.8" cy="197" r="2.7" fill="none" stroke="#0066ff" stroke-width="1"/>
<polygon points="383.2,215.6 380.2,221 386.2,221" fill="none" stroke="#0066ff" stroke-width="1"/>
<polygon points="501,215.6 498,221 504,221" fill="none" stroke="#0066ff" stroke-width="1"/>
<polygon points="374.8,236.5 377.5,239.8 374.8,243.1 372.1,239.8" fill="none" stroke="#0066ff" stroke-width="1"/>
<polygon points="510.6,236.5 513.3,239.8 510.6,243.1 507.9,239.8" fill="none" stroke="#0066ff" stroke-width="1"/>
<polyline points="349.7,261.37 350.47,261.37 352.01,261.37 354.31,261.37 357.39,261.37 359.91,261.39 361.89,261.42 363.31,261.48 364.19,261.55 364.96,261.62 365.64,261.69 366.21,261.74 366.69,261.79 367.12,261.77 367.51,261.69 367.85,261.54 368.15,261.33 368.45,261.06 368.75,260.75 369.05,260.4 369.35,260 369.64,259.52 369.91,258.97 370.18,258.35 370.43,257.65 370.75,256.44 371.15,254.71 371.63,252.48 372.17,249.72 372.66,247.3 373.09,245.2 373.45,243.42 373.75,241.98 374.09,240.5 374.46,239 374.87,237.48 375.33,235.92 375.72,234.54 376.06,233.31 376.34,232.25 376.56,231.35 377.1,229.98 377.95,228.12 379.11,225.8 380.59,223 382.39,219.51 384.53,215.34 387,210.48 389.8,204.92 392.15,200.35 394.05,196.75 395.5,194.12 396.5,192.48 397.59,190.68 398.76,188.72 400.03,186.62 401.38,184.38 402.67,182.35 403.92,180.55 405.12,178.98 406.28,177.62 407.3,176.35 408.2,175.15 408.97,174.03 409.62,172.97 410.31,171.98 411.04,171.03 411.8,170.12 412.6,169.27 413.4,168.45 414.2,167.65 415,166.88 415.8,166.12 416.65,165.38 417.55,164.62 418.5,163.88 419.5,163.12 420.62,162.41 421.88,161.74 423.25,161.1 424.75,160.5 426.25,159.9 427.75,159.3 429.25,158.7 430.75,158.1 432.25,157.5 433.75,156.9 435.25,156.3 436.75,155.7 438.06,155.2 439.19,154.8 440.12,154.5 440.88,154.3 441.61,154.12 442.34,153.98 443.05,153.85 443.75,153.75 444.48,153.71 445.23,153.74 446,153.82 446.8,153.97 447.65,154.2 448.55,154.5 449.5,154.88 450.5,155.32 451.62,155.85 452.88,156.45 454.25,157.12 455.75,157.88 457.25,158.7 458.75,159.6 460.25,160.57 461.75,161.62 463.25,162.71 464.75,163.84 466.25,165 467.75,166.2 469.27,167.56 470.83,169.09 472.4,170.77 474,172.63 475.55,174.45 477.05,176.25 478.5,178.03 479.9,179.78 481.26,181.56 482.59,183.39 483.88,185.25 485.12,187.15 486.32,188.99 487.48,190.76 488.58,192.48 489.62,194.12 491.05,196.74 492.85,200.31 495.02,204.85 497.57,210.35 499.89,215.19 501.96,219.36 503.8,222.87 505.4,225.73 506.8,228.48 508,231.12 509,233.67 509.8,236.12 510.55,238.48 511.25,240.73 511.9,242.88 512.5,244.92 513.07,247.06 513.62,249.29 514.15,251.6 514.65,254 515.1,256.01 515.5,257.64 515.85,258.88 516.15,259.73 516.44,260.45 516.71,261.05 516.98,261.52 517.23,261.88 517.4,262.13 517.5,262.29 517.52,262.35 517.48,262.32 517.6,262.28 517.9,262.24 518.38,262.19 519.03,262.14 519.76,262.05 520.59,261.91 521.5,261.73 522.5,261.5 523.5,261.3 524.5,261.13 525.5,260.98 526.5,260.85 527.5,260.77 528.5,260.72 529.5,260.7 530.5,260.73 531.5,260.77 532.5,260.84 533.5,260.92 534.5,261.02 535.58,261.1 536.74,261.18 537.99,261.24 539.31,261.29 540.31,261.33 540.97,261.35 541.3,261.37" fill="none" stroke="#cc00ff" stroke-width="1.1" stroke-linejoin="round" stroke-opacity=".88"/>
<rect x="405.3" y="172.9" width="5.4" height="5.4" fill="none" stroke="#cc00ff" stroke-width="1"/>
<rect x="473.7" y="172.7" width="5.4" height="5.4" fill="none" stroke="#cc00ff" stroke-width="1"/>
<circle cx="394" cy="196.6" r="2.7" fill="none" stroke="#cc00ff" stroke-width="1"/>
<circle cx="491.2" cy="196.6" r="2.7" fill="none" stroke="#cc00ff" stroke-width="1"/>
<polygon points="382.8,215.6 379.8,221 385.8,221" fill="none" stroke="#cc00ff" stroke-width="1"/>
<polygon points="501.4,215.4 498.4,220.8 504.4,220.8" fill="none" stroke="#cc00ff" stroke-width="1"/>
<polygon points="374.2,236.5 376.9,239.8 374.2,243.1 371.5,239.8" fill="none" stroke="#cc00ff" stroke-width="1"/>
<polygon points="511,236.5 513.7,239.8 511,243.1 508.3,239.8" fill="none" stroke="#cc00ff" stroke-width="1"/>
<rect x="507.4" y="141.2" width="31.8" height="68.3" fill="#fff" stroke="#b4b4b4" stroke-width="1"/>
<line x1="511" y1="149.1" x2="529" y2="149.1" stroke="#ff0000" stroke-opacity=".78" stroke-width="1.5"/>
<text x="531.2" y="153.1" class="lg">1</text>
<line x1="511" y1="162.4" x2="529" y2="162.4" stroke="#ccff00" stroke-opacity=".78" stroke-width="1.5"/>
<text x="531.2" y="166.4" class="lg">2</text>
<line x1="511" y1="175.7" x2="529" y2="175.7" stroke="#00ff66" stroke-opacity=".78" stroke-width="1.5"/>
<text x="531.2" y="179.7" class="lg">3</text>
<line x1="511" y1="189" x2="529" y2="189" stroke="#0066ff" stroke-opacity=".78" stroke-width="1.5"/>
<text x="531.2" y="193" class="lg">4</text>
<line x1="511" y1="202.2" x2="529" y2="202.2" stroke="#cc00ff" stroke-opacity=".78" stroke-width="1.5"/>
<text x="531.2" y="206.2" class="lg">5</text>
<text x="348.5" y="298.1" class="tk" text-anchor="middle">-60</text>
<text x="380.43" y="298.1" class="tk" text-anchor="middle">-40</text>
<text x="412.37" y="298.1" class="tk" text-anchor="middle">-20</text>
<text x="445.5" y="298.1" class="tk" text-anchor="middle">0</text>
<text x="477.43" y="298.1" class="tk" text-anchor="middle">20</text>
<text x="509.37" y="298.1" class="tk" text-anchor="middle">40</text>
<text x="541.3" y="298.1" class="tk" text-anchor="middle">60</text>
<text x="348" y="289.7" class="tk" text-anchor="end">-20</text>
<text x="348" y="265.07" class="tk" text-anchor="end">0</text>
<text x="348" y="240.43" class="tk" text-anchor="end">20</text>
<text x="348" y="215.8" class="tk" text-anchor="end">40</text>
<text x="348" y="191.17" class="tk" text-anchor="end">60</text>
<text x="348" y="166.53" class="tk" text-anchor="end">80</text>
<text x="348" y="141.9" class="tk" text-anchor="end">100</text>
<text x="444.3" y="308.9" class="tk" text-anchor="middle">Spray angles (degree)</text>
<text transform="translate(324.7 212.4) rotate(-90)" class="tk" letter-spacing="-.15" text-anchor="middle">Intensity</text>
<text x="439.1" y="326.5" class="cap" text-anchor="middle">(<tspan font-weight="bold">c</tspan>)</text>
</g>
<g id="fig-a-overlay">
<path d="M251.13 14.7 A38 38 0 0 0 314.87 14.7" fill="none" stroke="#201b8a" stroke-width="0.75"/>
<path d="M238.8 22.7 A52.7 52.7 0 0 0 327.2 22.7" fill="none" stroke="#201b8a" stroke-width="0.75"/>
<path d="M226.05 30.98 A67.9 67.9 0 0 0 339.95 30.98" fill="none" stroke="#201b8a" stroke-width="0.75"/>
<path d="M213.98 38.82 A82.3 82.3 0 0 0 352.02 38.82" fill="none" stroke="#201b8a" stroke-width="0.75"/>
<path d="M202.07 46.56 A96.5 96.5 0 0 0 363.93 46.56" fill="none" stroke="#201b8a" stroke-width="0.75"/>
<text x="321" y="16.8" class="num" text-anchor="middle">1</text>
<text x="332.2" y="24.3" class="num" text-anchor="middle">2</text>
<text x="343.2" y="30.9" class="num" text-anchor="middle">3</text>
<text x="353.8" y="37.3" class="num" text-anchor="middle">4</text>
<text x="365.2" y="43.9" class="num" text-anchor="middle">5</text>
<text x="283.8" y="128.7" class="cap" text-anchor="middle">(<tspan font-weight="bold">a</tspan>)</text>
</g>
</svg>
</body>
</html>
